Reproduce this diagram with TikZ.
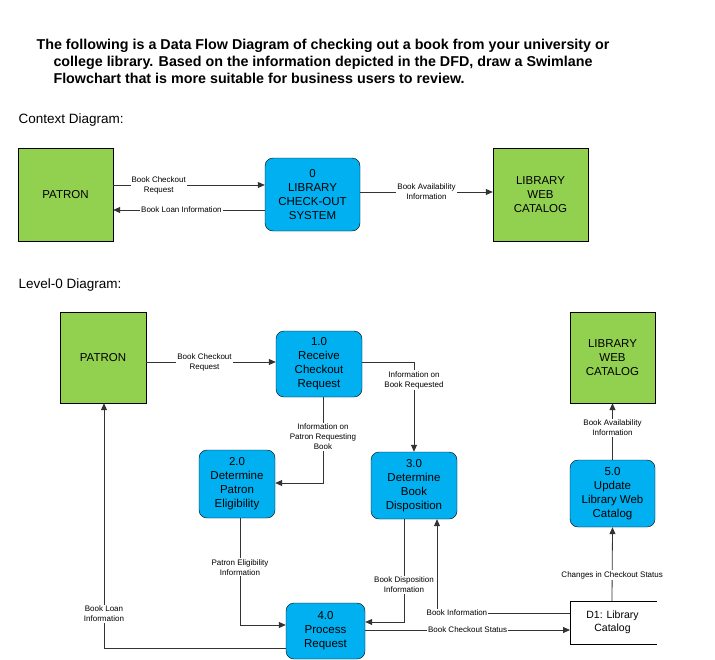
\documentclass[tikz,border=0pt]{standalone}
\usepackage{fontspec}
\setmainfont{Liberation Sans}
\usetikzlibrary{arrows.meta}
\begin{document}
\begin{tikzpicture}[x=1pt,y=-1pt,
 ent/.style={draw=black,inner sep=0,align=center,font=\fontsize{11.5}{14}\selectfont},
 proc/.style={draw=black,rounded corners=8pt,inner sep=0,align=center,font=\fontsize{11.5}{14}\selectfont},
 lab/.style={fill=white,inner sep=1pt,align=center,font=\fontsize{8}{10}\selectfont},
 fl/.style={draw=black!80,line width=0.8pt,-{Triangle[length=7pt,width=6pt]}},
 ln/.style={draw=black!80,line width=0.8pt}]
\definecolor{grn}{RGB}{146,208,80}\definecolor{blu}{RGB}{0,176,240}
\tikzset{ent/.append style={fill=grn},proc/.append style={fill=blu}}
\useasboundingbox (0,0) rectangle (715,659);
\node[anchor=north west,align=left,font=\bfseries\fontsize{14.3}{17}\selectfont] (title) at (33,36)
 {The following is a Data Flow Diagram of checking out a book from your university or\\
 \hspace*{17pt}college library. Based on the information depicted in the DFD, draw a Swimlane\\
 \hspace*{17pt}Flowchart that is more suitable for business users to review.};
\node[anchor=west,font=\fontsize{13.5}{15}\selectfont] (ctx) at (15,120) {Context Diagram:};
\node[anchor=west,font=\fontsize{13.5}{15}\selectfont] (lvl) at (15,285) {Level-0 Diagram:};
% context
\node[ent,minimum width=95,minimum height=93] (p0) at (65.5,194.5) {PATRON};
\node[proc,minimum width=95,minimum height=73] (s0) at (312.5,194.5) {0\\LIBRARY\\CHECK-OUT\\SYSTEM};
\node[ent,minimum width=95,minimum height=93] (w0) at (540.5,194.5) {LIBRARY\\WEB\\CATALOG};
\draw[fl] (p0.east|-0,185) -- (s0.west|-0,185) node[lab,pos=0.3]{Book Checkout\\Request};
\draw[fl] (s0.west|-0,210) -- (p0.east|-0,210) node[lab,pos=0.55]{Book Loan Information};
\draw[fl] (s0.east|-0,192) -- (w0.west|-0,192) node[lab,pos=0.5]{Book Availability\\Information};
% level 0
\node[ent,minimum width=86,minimum height=91] (p) at (103,357.5) {PATRON};
\node[proc,minimum width=86,minimum height=66] (n1) at (319,364) {1.0\\Receive\\Checkout\\Request};
\node[ent,minimum width=85,minimum height=91] (w) at (612.5,357.5) {LIBRARY\\WEB\\CATALOG};
\node[proc,minimum width=76,minimum height=68] (n2) at (237,484) {2.0\\Determine\\Patron\\Eligibility};
\node[proc,minimum width=86,minimum height=67] (n3) at (414,485.5) {3.0\\Determine\\Book\\Disposition};
\node[proc,minimum width=85,minimum height=67] (n5) at (612.5,493.5) {5.0\\Update\\Library Web\\Catalog};
\node[proc,minimum width=79,minimum height=56] (n4) at (325.5,631) {4.0\\Process\\Request};
\coordinate (dtl) at (570,601); \coordinate (dbl) at (570,644);
\node[inner sep=0,align=center,font=\fontsize{10.5}{13}\selectfont] (d1) at (612.5,622.5) {D1: Library\\Catalog};
\draw[ln,draw=black] (657,601) -- (dtl) -- (dbl) -- (657,644);
\coordinate (d1top) at (612,601);
\draw[fl] (p.east|-0,362) -- (n1.west|-0,362) node[lab,pos=0.45]{Book Checkout\\Request};
\draw[fl] (n1.east|-0,362) -| (n3.north) node[lab,pos=0.6]{Information on\\Book Requested};
\draw[fl] (n1.south-|323,0) |- (n2.east|-0,483) node[lab,pos=0.23]{Information on\\Patron Requesting\\Book};
\draw[fl] (n2.south-|240,0) |- (n4.west|-0,625) node[lab,pos=0.23]{Patron Eligibility\\Information};
\draw[fl] (n3.south-|404,0) |- (n4.east|-0,622) node[lab,pos=0.32]{Book Disposition\\Information};
\draw[fl] (dtl|-0,613) -| (n3.south-|437,0) node[lab,pos=0.425]{Book Information};
\draw[fl] (n4.east|-0,630) -- (dtl|-0,630) node[lab,pos=0.5]{Book Checkout Status};
\draw[fl] (d1top) -- (n5.south) node[lab,pos=0.35]{Changes in Checkout Status};
\draw[fl] (n5.north) -- (w.south) node[lab,pos=0.56]{Book Availability\\Information};
\draw[fl] (n4.west|-0,648) -| (p.south-|104,0) node[lab,pos=0.57]{Book Loan\\Information};
\end{tikzpicture}
\end{document}
